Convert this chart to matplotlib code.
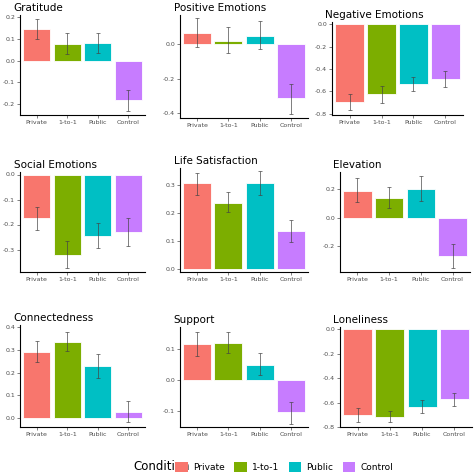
import matplotlib.pyplot as plt
from matplotlib.patches import Patch

conds = ["Private", "1-to-1", "Public", "Control"]
colors = ["#F8766D", "#7CAE00", "#00BFC4", "#C77CFF"]

titles = ["Gratitude", "Positive Emotions", "Negative Emotions",
          "Social Emotions", "Life Satisfaction", "Elevation",
          "Connectedness", "Support", "Loneliness"]
means = [[0.145, 0.075, 0.08, -0.18],
         [0.065, 0.02, 0.05, -0.315],
         [-0.69, -0.625, -0.535, -0.49],
         [-0.175, -0.32, -0.245, -0.228],
         [0.305, 0.237, 0.306, 0.136],
         [0.19, 0.14, 0.2, -0.265],
         [0.29, 0.335, 0.228, 0.025],
         [0.115, 0.12, 0.05, -0.103],
         [-0.70, -0.715, -0.635, -0.57]]
lows = [[0.10, 0.03, 0.035, -0.23],
        [-0.015, -0.05, -0.03, -0.405],
        [-0.765, -0.70, -0.60, -0.56],
        [-0.22, -0.375, -0.295, -0.285],
        [0.265, 0.203, 0.265, 0.098],
        [0.11, 0.07, 0.12, -0.35],
        [0.245, 0.295, 0.175, -0.02],
        [0.077, 0.088, 0.015, -0.14],
        [-0.755, -0.76, -0.685, -0.625]]
highs = [[0.19, 0.125, 0.127, -0.137],
         [0.15, 0.10, 0.135, -0.23],
         [-0.62, -0.55, -0.47, -0.42],
         [-0.13, -0.265, -0.195, -0.172],
         [0.343, 0.273, 0.348, 0.176],
         [0.275, 0.215, 0.29, -0.185],
         [0.34, 0.38, 0.28, 0.075],
         [0.155, 0.155, 0.088, -0.07],
         [-0.645, -0.665, -0.58, -0.525]]
ylims = [(-0.25, 0.21), (-0.43, 0.17), (-0.81, 0.02),
         (-0.39, 0.01), (-0.01, 0.36), (-0.38, 0.32),
         (-0.04, 0.41), (-0.15, 0.17), (-0.80, 0.02)]
yticks = [[-0.2, -0.1, 0.0, 0.1, 0.2], [-0.4, -0.2, 0.0], [-0.8, -0.6, -0.4, -0.2, 0.0],
          [-0.3, -0.2, -0.1, 0.0], [0.0, 0.1, 0.2, 0.3], [-0.2, 0.0, 0.2],
          [0.0, 0.1, 0.2, 0.3, 0.4], [-0.1, 0.0, 0.1], [-0.8, -0.6, -0.4, -0.2, 0.0]]

# axes boxes in pixels: left, top, right, bottom
boxes = [(20, 15, 145, 115), (180, 15, 308, 118), (332, 22, 463, 115),
         (20, 172, 145, 272), (180, 168, 308, 272), (340, 172, 470, 272),
         (20, 325, 145, 427), (180, 327, 308, 427), (340, 327, 472, 427)]

W = 474
fig = plt.figure(figsize=(W / 100, W / 100), dpi=100)
for i, t in enumerate(titles):
    l, tp, r, b = boxes[i]
    ax = fig.add_axes([l / W, 1 - b / W, (r - l) / W, (b - tp) / W])
    x = range(4)
    m = means[i]
    err = [[m[j] - lows[i][j] for j in x], [highs[i][j] - m[j] for j in x]]
    ax.bar(x, m, width=0.9, color=colors, edgecolor="white", linewidth=0.6)
    ax.errorbar(x, m, yerr=err, fmt="none", ecolor="#444444", elinewidth=0.6,
                capsize=1.5, capthick=0.6, alpha=0.8)
    ax.set_xlim(-0.55, 3.55)
    ax.set_ylim(*ylims[i])
    ax.set_yticks(yticks[i])
    ax.set_yticklabels([f"{v:.1f}" for v in yticks[i]])
    ax.set_xticks(list(x))
    ax.set_xticklabels(conds)
    ax.tick_params(labelsize=4.5, colors="#4d4d4d", length=2, width=0.5, pad=1.5)
    ax.spines[["top", "right"]].set_visible(False)
    ax.spines[["left", "bottom"]].set_linewidth(0.8)
    ax.set_title(t, loc="left", fontsize=7.5, pad=3, x=-0.05)

handles = [Patch(facecolor=c, label=n) for c, n in zip(colors, conds)]
fig.legend(handles=handles, loc="center", bbox_to_anchor=(0.6, 1 - 467 / W),
           ncol=4, frameon=False, fontsize=6.5,
           handlelength=1.4, handleheight=1.4, columnspacing=1.0, handletextpad=0.6)
fig.text(133 / W, 1 - 467 / W, "Condition", fontsize=8.5, va="center", ha="left")

fig.savefig("out.png", dpi=100)
